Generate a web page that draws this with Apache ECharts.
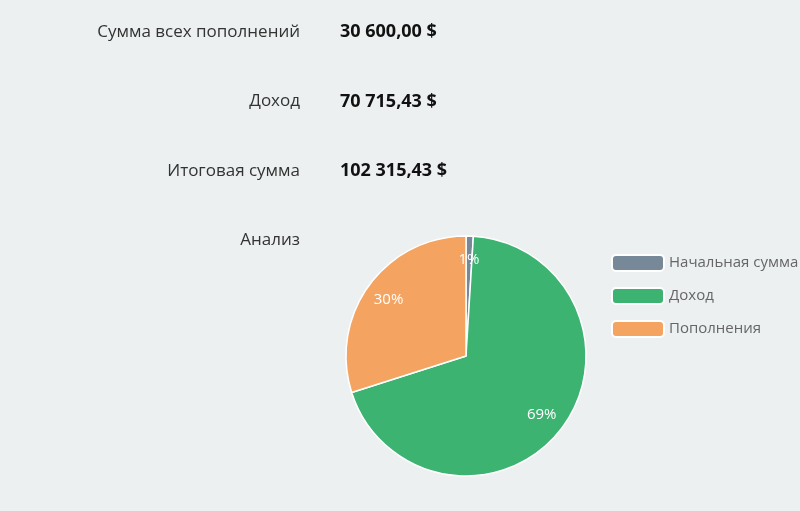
<!DOCTYPE html>
<html>
<head>
<meta charset="utf-8">
<script src="https://cdn.jsdelivr.net/npm/echarts@6/dist/echarts.min.js"></script>
<style>
  html, body { margin: 0; padding: 0; background: #ecf0f1; }
  #main { width: 800px; height: 511px; }
</style>
</head>
<body>
<div id="main"></div>
<script>
var rowLabels = ['Сумма всех пополнений', 'Доход', 'Итоговая сумма', 'Анализ'];
var rowValues = ['30 600,00 $', '70 715,43 $', '102 315,43 $', ''];
var categories = ['Начальная сумма', 'Доход', 'Пополнения'];
var values = [1000, 70715.43, 30600];
var colors = ['#778899', '#3cb371', '#f4a460'];

var chartDom = document.getElementById('main');
var myChart = echarts.init(chartDom);
var font = '"Open Sans", "Noto Sans", sans-serif';

var graphics = [];
rowLabels.forEach(function (t, i) {
  var y = 32 + i * 69.5;
  graphics.push({ type: 'text', x: 300, y: y, style: { text: t, align: 'right', verticalAlign: 'middle', font: '17px ' + font, fill: '#333' } });
  if (rowValues[i]) {
    graphics.push({ type: 'text', x: 340, y: y, style: { text: rowValues[i], align: 'left', verticalAlign: 'middle', font: 'bold 18px ' + font, fill: '#111' } });
  }
});

var pieData = categories.map(function (c, i) {
  return { name: c, value: values[i], itemStyle: { color: colors[i] } };
});

var option = {
  backgroundColor: '#ecf0f1',
  animation: false,
  graphic: graphics,
  legend: {
    orient: 'vertical',
    left: 606,
    top: 249,
    itemWidth: 52,
    itemHeight: 16,
    itemGap: 15,
    textStyle: { fontFamily: font, fontSize: 15, color: '#666' },
    data: categories
  },
  series: [
    {
      type: 'pie',
      center: [466, 356],
      radius: [0, 120],
      startAngle: 90,
      label: { show: false },
      labelLine: { show: false },
      itemStyle: { borderColor: '#fff', borderWidth: 1.5 },
      data: pieData
    },
    {
      type: 'pie',
      center: [466, 356],
      radius: [66, 120],
      startAngle: 90,
      silent: true,
      itemStyle: { color: 'transparent', borderWidth: 0 },
      label: {
        show: true, position: 'inside', formatter: '{d}%',
        color: '#fff', fontFamily: font, fontSize: 15
      },
      labelLine: { show: false },
      data: categories.map(function (c, i) {
        return { name: c, value: values[i], itemStyle: { color: 'rgba(0,0,0,0)' } };
      })
    }
  ]
};
option.series[1].label.formatter = function (p) { return Math.round(p.percent) + '%'; };

option && myChart.setOption(option);
</script>
</body>
</html>
